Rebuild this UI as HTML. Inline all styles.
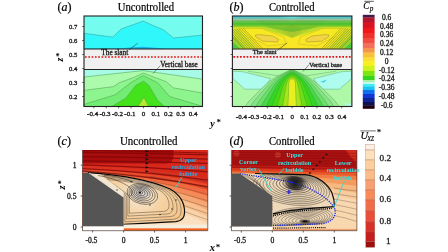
<!DOCTYPE html>
<html><head><meta charset="utf-8"><style>html,body{margin:0;padding:0;background:#fff;overflow:hidden}svg{display:block}</style></head><body>
<svg width="448" height="252" viewBox="0 0 448 252">
<rect width="448" height="252" fill="#fff"/>
<text x="57.6" y="10.6" style="font-family:'Liberation Serif',serif;font-size:12px;stroke:#000;stroke-width:0.2px">(<tspan font-style="italic">a</tspan>)</text>
<text x="117.8" y="10.6" textLength="56.4" lengthAdjust="spacingAndGlyphs" style="font-family:'Liberation Serif',serif;font-size:12px;stroke:#000;stroke-width:0.2px">Uncontrolled</text>
<text x="229.5" y="10.6" style="font-family:'Liberation Serif',serif;font-size:12px;stroke:#000;stroke-width:0.2px">(<tspan font-style="italic">b</tspan>)</text>
<text x="269" y="10.6" textLength="45.5" lengthAdjust="spacingAndGlyphs" style="font-family:'Liberation Serif',serif;font-size:12px;stroke:#000;stroke-width:0.2px">Controlled</text>
<text x="57.6" y="144.8" style="font-family:'Liberation Serif',serif;font-size:12px;stroke:#000;stroke-width:0.2px">(<tspan font-style="italic">c</tspan>)</text>
<text x="120" y="144.8" textLength="57.5" lengthAdjust="spacingAndGlyphs" style="font-family:'Liberation Serif',serif;font-size:12px;stroke:#000;stroke-width:0.2px">Uncontrolled</text>
<text x="229.5" y="144.8" style="font-family:'Liberation Serif',serif;font-size:12px;stroke:#000;stroke-width:0.2px">(<tspan font-style="italic">d</tspan>)</text>
<text x="269" y="144.8" textLength="45.5" lengthAdjust="spacingAndGlyphs" style="font-family:'Liberation Serif',serif;font-size:12px;stroke:#000;stroke-width:0.2px">Controlled</text>
<rect x="84.0" y="16.0" width="118.5" height="33.0" fill="#74fcee"/>
<polygon points="84.0,33.3 112.7,37.1 121.3,29.0 143.0,21.1 163.6,30.0 173.6,38.0 202.5,35.1 202.5,49.0 84.0,49.0" fill="#30f8fa" stroke="#3aa6a0" stroke-width="0.6"/>
<polygon points="84.0,49.0 84.0,48.7 118.0,48.5 130.0,47.6 143.0,46.7 152.0,47.4 166.0,48.6 202.5,48.8 202.5,49.0" fill="#18b4e8"/>
<rect x="84.0" y="49.0" width="118.5" height="20.5" fill="#f0f0f0"/>
<rect x="84.0" y="69.5" width="118.5" height="37.0" fill="#a6fae6"/>
<polygon points="84.0,77.0 143.0,70.6 202.5,79.2 202.5,106.5 84.0,106.5" fill="#acfaac" stroke="#4a9a4a" stroke-width="0.5"/>
<polygon points="84.0,90.4 113.4,86.6 119.5,82.6 134.3,77.3 143.0,73.0 166.2,81.7 173.2,87.8 202.5,93.0 202.5,106.5 84.0,106.5" fill="#8ef48e" stroke="#4a9a4a" stroke-width="0.5"/>
<polygon points="84.0,104.4 115.2,94.8 130.9,82.6 143.0,75.5 157.5,82.6 169.7,96.5 202.5,106.3 202.5,106.5 84.0,106.5" fill="#72ec72" stroke="#4a9a4a" stroke-width="0.5"/>
<polygon points="111.7,106.5 125.6,98.3 136.0,85.2 143.5,81.2 148.7,85.2 157.5,100.0 164.4,106.5" fill="#44e21a" stroke="#4a9a4a" stroke-width="0.5"/>
<polygon points="137.8,106.5 144.0,97.2 148.7,106.5" fill="#b4ea2c" stroke="#4a9a4a" stroke-width="0.5"/>
<line x1="85.0" y1="57" x2="201.5" y2="57" stroke="#e01010" stroke-width="1.7" stroke-dasharray="1.7 1.6"/>
<rect x="84.0" y="16.0" width="118.5" height="90.5" fill="none" stroke="#222" stroke-width="1.1"/>
<line x1="84.0" y1="49.0" x2="202.5" y2="49.0" stroke="#222" stroke-width="1"/>
<line x1="84.0" y1="69.5" x2="202.5" y2="69.5" stroke="#222" stroke-width="1"/>
<text x="101.3" y="55.0" text-anchor="start" style="font-family:'Liberation Serif',serif;font-size:7.3px;fill:#222;stroke:#222;stroke-width:0.32px">The slant</text>
<line x1="129" y1="49.8" x2="137.7" y2="43.3" stroke="#222" stroke-width="0.5"/>
<text x="160.3" y="67.0" text-anchor="start" style="font-family:'Liberation Serif',serif;font-size:7.3px;fill:#222;stroke:#222;stroke-width:0.32px">Vertical base</text>
<line x1="160.3" y1="65.6" x2="153.1" y2="73.4" stroke="#222" stroke-width="0.5"/>
<line x1="82.2" y1="26.5" x2="84.0" y2="26.5" stroke="#222" stroke-width="0.7"/>
<text x="77.2" y="28.9" text-anchor="end" style="font-family:'Liberation Serif',serif;font-size:6.6px;fill:#222;stroke:#222;stroke-width:0.32px">0.7</text>
<line x1="82.2" y1="40.5" x2="84.0" y2="40.5" stroke="#222" stroke-width="0.7"/>
<text x="77.2" y="42.9" text-anchor="end" style="font-family:'Liberation Serif',serif;font-size:6.6px;fill:#222;stroke:#222;stroke-width:0.32px">0.6</text>
<line x1="82.2" y1="54.5" x2="84.0" y2="54.5" stroke="#222" stroke-width="0.7"/>
<text x="77.2" y="56.9" text-anchor="end" style="font-family:'Liberation Serif',serif;font-size:6.6px;fill:#222;stroke:#222;stroke-width:0.32px">0.5</text>
<line x1="82.2" y1="68.5" x2="84.0" y2="68.5" stroke="#222" stroke-width="0.7"/>
<text x="77.2" y="70.9" text-anchor="end" style="font-family:'Liberation Serif',serif;font-size:6.6px;fill:#222;stroke:#222;stroke-width:0.32px">0.4</text>
<line x1="82.2" y1="82.5" x2="84.0" y2="82.5" stroke="#222" stroke-width="0.7"/>
<text x="77.2" y="84.9" text-anchor="end" style="font-family:'Liberation Serif',serif;font-size:6.6px;fill:#222;stroke:#222;stroke-width:0.32px">0.3</text>
<line x1="82.2" y1="96.5" x2="84.0" y2="96.5" stroke="#222" stroke-width="0.7"/>
<text x="77.2" y="98.9" text-anchor="end" style="font-family:'Liberation Serif',serif;font-size:6.6px;fill:#222;stroke:#222;stroke-width:0.32px">0.2</text>
<line x1="93.85" y1="106.5" x2="93.85" y2="108.3" stroke="#222" stroke-width="0.7"/>
<text x="92.64999999999999" y="116.3" text-anchor="middle" style="font-family:'Liberation Serif',serif;font-size:7.0px;fill:#222;stroke:#222;stroke-width:0.32px">-0.4</text>
<line x1="106.24999999999999" y1="106.5" x2="106.24999999999999" y2="108.3" stroke="#222" stroke-width="0.7"/>
<text x="105.04999999999998" y="116.3" text-anchor="middle" style="font-family:'Liberation Serif',serif;font-size:7.0px;fill:#222;stroke:#222;stroke-width:0.32px">-0.3</text>
<line x1="118.64999999999999" y1="106.5" x2="118.64999999999999" y2="108.3" stroke="#222" stroke-width="0.7"/>
<text x="117.44999999999999" y="116.3" text-anchor="middle" style="font-family:'Liberation Serif',serif;font-size:7.0px;fill:#222;stroke:#222;stroke-width:0.32px">-0.2</text>
<line x1="131.04999999999998" y1="106.5" x2="131.04999999999998" y2="108.3" stroke="#222" stroke-width="0.7"/>
<text x="129.85" y="116.3" text-anchor="middle" style="font-family:'Liberation Serif',serif;font-size:7.0px;fill:#222;stroke:#222;stroke-width:0.32px">-0.1</text>
<line x1="143.45" y1="106.5" x2="143.45" y2="108.3" stroke="#222" stroke-width="0.7"/>
<text x="143.45" y="116.3" text-anchor="middle" style="font-family:'Liberation Serif',serif;font-size:7.0px;fill:#222;stroke:#222;stroke-width:0.32px">0</text>
<line x1="155.85" y1="106.5" x2="155.85" y2="108.3" stroke="#222" stroke-width="0.7"/>
<text x="155.85" y="116.3" text-anchor="middle" style="font-family:'Liberation Serif',serif;font-size:7.0px;fill:#222;stroke:#222;stroke-width:0.32px">0.1</text>
<line x1="168.25" y1="106.5" x2="168.25" y2="108.3" stroke="#222" stroke-width="0.7"/>
<text x="168.25" y="116.3" text-anchor="middle" style="font-family:'Liberation Serif',serif;font-size:7.0px;fill:#222;stroke:#222;stroke-width:0.32px">0.2</text>
<line x1="180.64999999999998" y1="106.5" x2="180.64999999999998" y2="108.3" stroke="#222" stroke-width="0.7"/>
<text x="180.64999999999998" y="116.3" text-anchor="middle" style="font-family:'Liberation Serif',serif;font-size:7.0px;fill:#222;stroke:#222;stroke-width:0.32px">0.3</text>
<line x1="193.04999999999998" y1="106.5" x2="193.04999999999998" y2="108.3" stroke="#222" stroke-width="0.7"/>
<text x="193.04999999999998" y="116.3" text-anchor="middle" style="font-family:'Liberation Serif',serif;font-size:7.0px;fill:#222;stroke:#222;stroke-width:0.32px">0.4</text>
<text transform="translate(62.8,61.6) rotate(-90)" style="font-family:'Liberation Serif',serif;font-size:10px;font-style:italic;font-weight:bold">z<tspan font-size="8" dx="1" dy="-0.6" font-style="normal">*</tspan></text>
<text x="210.3" y="126.6" style="font-family:'Liberation Serif',serif;font-size:10px;font-style:italic;font-weight:bold">y<tspan font-size="9" dx="1.8" dy="-1.3" font-style="normal">*</tspan></text>
<defs><linearGradient id="gbtop" gradientUnits="userSpaceOnUse" x1="0" y1="16" x2="0" y2="49"><stop offset="0" stop-color="#38c4e0"/><stop offset="0.06" stop-color="#5cc8c4"/><stop offset="0.11" stop-color="#a0c8a0"/><stop offset="0.16" stop-color="#70c650"/><stop offset="0.24" stop-color="#48c630"/><stop offset="0.31" stop-color="#80d028"/><stop offset="0.35" stop-color="#c8e020"/><stop offset="0.39" stop-color="#f6ea20"/><stop offset="1" stop-color="#fae426"/></linearGradient><radialGradient id="gbspot" cx="0.5" cy="0" r="0.6"><stop offset="0" stop-color="#70f4f4"/><stop offset="1" stop-color="#70f4f4" stop-opacity="0"/></radialGradient></defs>
<rect x="232.4" y="16.0" width="119.49999999999997" height="33.0" fill="url(#gbtop)"/>
<rect x="280" y="16" width="23" height="5" fill="url(#gbspot)"/>
<polygon points="256.0,26.8 292.1,37.8 328.3,26.8" fill="#bcdc2c"/>
<polygon points="262.0,26.5 292.1,32.0 322.3,26.5" fill="#78cc2c"/>
<line x1="256.0" y1="20" x2="292.15" y2="37.8" stroke="#6a8a3a" stroke-width="0.25" opacity="0.6"/>
<line x1="327.0" y1="20" x2="292.15" y2="37.8" stroke="#6a8a3a" stroke-width="0.25" opacity="0.6"/>
<line x1="258.6" y1="20" x2="293.06" y2="37.15" stroke="#6a8a3a" stroke-width="0.25" opacity="0.6"/>
<line x1="324.4" y1="20" x2="291.23999999999995" y2="37.15" stroke="#6a8a3a" stroke-width="0.25" opacity="0.6"/>
<line x1="261.2" y1="20" x2="293.96999999999997" y2="36.5" stroke="#6a8a3a" stroke-width="0.25" opacity="0.6"/>
<line x1="321.8" y1="20" x2="290.33" y2="36.5" stroke="#6a8a3a" stroke-width="0.25" opacity="0.6"/>
<line x1="263.8" y1="20" x2="294.88" y2="35.849999999999994" stroke="#6a8a3a" stroke-width="0.25" opacity="0.6"/>
<line x1="319.2" y1="20" x2="289.41999999999996" y2="35.849999999999994" stroke="#6a8a3a" stroke-width="0.25" opacity="0.6"/>
<line x1="266.4" y1="20" x2="295.78999999999996" y2="35.199999999999996" stroke="#6a8a3a" stroke-width="0.25" opacity="0.6"/>
<line x1="316.6" y1="20" x2="288.51" y2="35.199999999999996" stroke="#6a8a3a" stroke-width="0.25" opacity="0.6"/>
<line x1="269.0" y1="20" x2="296.7" y2="34.55" stroke="#6a8a3a" stroke-width="0.25" opacity="0.6"/>
<line x1="314.0" y1="20" x2="287.59999999999997" y2="34.55" stroke="#6a8a3a" stroke-width="0.25" opacity="0.6"/>
<line x1="271.6" y1="20" x2="297.60999999999996" y2="33.9" stroke="#6a8a3a" stroke-width="0.25" opacity="0.6"/>
<line x1="311.4" y1="20" x2="286.69" y2="33.9" stroke="#6a8a3a" stroke-width="0.25" opacity="0.6"/>
<line x1="274.2" y1="20" x2="298.52" y2="33.25" stroke="#6a8a3a" stroke-width="0.25" opacity="0.6"/>
<line x1="308.8" y1="20" x2="285.78" y2="33.25" stroke="#6a8a3a" stroke-width="0.25" opacity="0.6"/>
<line x1="276.8" y1="20" x2="299.42999999999995" y2="32.599999999999994" stroke="#6a8a3a" stroke-width="0.25" opacity="0.6"/>
<line x1="306.2" y1="20" x2="284.87" y2="32.599999999999994" stroke="#6a8a3a" stroke-width="0.25" opacity="0.6"/>
<line x1="279.4" y1="20" x2="300.34" y2="31.949999999999996" stroke="#6a8a3a" stroke-width="0.25" opacity="0.6"/>
<line x1="303.6" y1="20" x2="283.96" y2="31.949999999999996" stroke="#6a8a3a" stroke-width="0.25" opacity="0.6"/>
<line x1="282.0" y1="20" x2="301.25" y2="31.299999999999997" stroke="#6a8a3a" stroke-width="0.25" opacity="0.6"/>
<line x1="301.0" y1="20" x2="283.04999999999995" y2="31.299999999999997" stroke="#6a8a3a" stroke-width="0.25" opacity="0.6"/>
<line x1="284.6" y1="20" x2="302.15999999999997" y2="30.65" stroke="#6a8a3a" stroke-width="0.25" opacity="0.6"/>
<line x1="298.4" y1="20" x2="282.14" y2="30.65" stroke="#6a8a3a" stroke-width="0.25" opacity="0.6"/>
<polygon points="232.4,28.5 238.0,28.5 256.0,48.5 232.4,48.5" fill="#d4e026"/>
<polygon points="232.4,35.0 246.0,48.5 232.4,48.5" fill="#9cd42e"/>
<polygon points="232.4,41.5 240.0,48.5 232.4,48.5" fill="#4cc83c"/>
<line x1="232.4" y1="36.9" x2="243.4" y2="48.5" stroke="#3a5a20" stroke-width="0.45" opacity="0.8"/>
<line x1="232.4" y1="34.379999999999995" x2="245.8" y2="48.5" stroke="#3a5a20" stroke-width="0.45" opacity="0.8"/>
<line x1="232.4" y1="31.85999999999999" x2="248.20000000000002" y2="48.5" stroke="#3a5a20" stroke-width="0.45" opacity="0.8"/>
<line x1="232.4" y1="29.34000000000001" x2="250.6" y2="48.5" stroke="#3a5a20" stroke-width="0.45" opacity="0.8"/>
<line x1="234.0" y1="28.5" x2="253.0" y2="48.5" stroke="#3a5a20" stroke-width="0.45" opacity="0.8"/>
<line x1="236.4" y1="28.5" x2="255.4" y2="48.5" stroke="#3a5a20" stroke-width="0.45" opacity="0.8"/>
<line x1="238.8" y1="28.5" x2="257.8" y2="48.5" stroke="#3a5a20" stroke-width="0.45" opacity="0.8"/>
<line x1="241.20000000000002" y1="28.5" x2="260.20000000000005" y2="48.5" stroke="#3a5a20" stroke-width="0.45" opacity="0.8"/>
<line x1="243.6" y1="28.5" x2="262.6" y2="48.5" stroke="#3a5a20" stroke-width="0.45" opacity="0.8"/>
<polyline points="238.0,28.6 262.0,28.6 284.0,37.0 286.0,44.0 268.0,46.0 250.0,37.0" fill="none" stroke="#9a9030" stroke-width="0.35" opacity="0.8"/>
<polygon points="351.9,28.5 346.3,28.5 328.3,48.5 351.9,48.5" fill="#d4e026"/>
<polygon points="351.9,35.0 338.3,48.5 351.9,48.5" fill="#9cd42e"/>
<polygon points="351.9,41.5 344.3,48.5 351.9,48.5" fill="#4cc83c"/>
<line x1="351.9" y1="36.9" x2="340.9" y2="48.5" stroke="#3a5a20" stroke-width="0.45" opacity="0.8"/>
<line x1="351.9" y1="34.379999999999995" x2="338.49999999999994" y2="48.5" stroke="#3a5a20" stroke-width="0.45" opacity="0.8"/>
<line x1="351.9" y1="31.85999999999999" x2="336.0999999999999" y2="48.5" stroke="#3a5a20" stroke-width="0.45" opacity="0.8"/>
<line x1="351.9" y1="29.34000000000001" x2="333.69999999999993" y2="48.5" stroke="#3a5a20" stroke-width="0.45" opacity="0.8"/>
<line x1="350.29999999999995" y1="28.5" x2="331.29999999999995" y2="48.5" stroke="#3a5a20" stroke-width="0.45" opacity="0.8"/>
<line x1="347.9" y1="28.5" x2="328.9" y2="48.5" stroke="#3a5a20" stroke-width="0.45" opacity="0.8"/>
<line x1="345.49999999999994" y1="28.5" x2="326.49999999999994" y2="48.5" stroke="#3a5a20" stroke-width="0.45" opacity="0.8"/>
<line x1="343.0999999999999" y1="28.5" x2="324.0999999999999" y2="48.5" stroke="#3a5a20" stroke-width="0.45" opacity="0.8"/>
<line x1="340.69999999999993" y1="28.5" x2="321.69999999999993" y2="48.5" stroke="#3a5a20" stroke-width="0.45" opacity="0.8"/>
<polyline points="346.3,28.6 322.3,28.6 300.3,37.0 298.3,44.0 316.3,46.0 334.3,37.0" fill="none" stroke="#9a9030" stroke-width="0.35" opacity="0.8"/>
<line x1="232.4" y1="19.0" x2="351.9" y2="19.0" stroke="#4a7a40" stroke-width="0.25" opacity="0.5"/>
<line x1="232.4" y1="20.4" x2="351.9" y2="20.4" stroke="#4a7a40" stroke-width="0.25" opacity="0.5"/>
<line x1="232.4" y1="21.8" x2="351.9" y2="21.8" stroke="#4a7a40" stroke-width="0.25" opacity="0.5"/>
<line x1="232.4" y1="23.2" x2="351.9" y2="23.2" stroke="#4a7a40" stroke-width="0.25" opacity="0.5"/>
<line x1="232.4" y1="24.6" x2="351.9" y2="24.6" stroke="#4a7a40" stroke-width="0.25" opacity="0.5"/>
<line x1="232.4" y1="26.0" x2="351.9" y2="26.0" stroke="#4a7a40" stroke-width="0.25" opacity="0.5"/>
<polygon points="255.5,35.0 259.0,34.6 272.5,36.0 278.6,39.6 277.4,42.0 262.5,41.2 255.5,36.6" fill="#f2d446" stroke="#8a7a30" stroke-width="0.4"/>
<polygon points="328.8,35.0 325.3,34.6 311.8,36.0 305.7,39.6 306.9,42.0 321.8,41.2 328.8,36.6" fill="#f2d446" stroke="#8a7a30" stroke-width="0.4"/>
<rect x="232.4" y="49.0" width="119.49999999999997" height="20.5" fill="#f0f0f0"/>
<rect x="232.4" y="69.5" width="119.49999999999997" height="37.0" fill="#aef8a8"/>
<polygon points="233.0,71.2 243.0,71.8 270.6,78.7 263.1,89.2 244.9,89.2 233.0,78.7" fill="#aefcee" stroke="#4a9a6a" stroke-width="0.4"/>
<polygon points="351.4,71.2 341.3,71.8 313.7,78.7 321.2,89.2 339.4,89.2 351.4,78.7" fill="#aefcee" stroke="#4a9a6a" stroke-width="0.4"/>
<polygon points="320.0,82.0 327.0,79.5 324.0,82.5" fill="#38d0e8"/>
<polygon points="342.7,103.2 351.9,104.0 351.9,106.0 346.0,105.0" fill="#aefcee"/>
<polyline points="248.0,71.2 278.0,75.8" fill="none" stroke="#4a9a6a" stroke-width="0.4"/>
<polyline points="336.3,71.2 306.3,75.8" fill="none" stroke="#4a9a6a" stroke-width="0.4"/>
<polygon points="245.1,106.5 249.1,101.0 254.1,96.0 259.1,91.0 264.1,86.0 270.1,81.0 277.6,76.0 286.1,72.0 290.1,70.2 294.1,70.2 298.1,72.0 306.6,76.0 314.1,81.0 320.1,86.0 325.1,91.0 330.1,96.0 335.1,101.0 339.1,106.5" fill="#9aea9a" stroke="#3c8a30" stroke-width="0.35"/>
<polygon points="250.5,106.5 254.0,101.0 258.4,96.1 262.8,91.1 267.2,86.1 272.5,81.1 279.1,76.2 286.6,72.2 290.2,70.5 294.0,70.5 297.7,72.2 305.2,76.2 311.8,81.1 317.1,86.1 321.5,91.1 325.9,96.1 330.3,101.0 333.8,106.5" fill="#86e486" stroke="#3c8a30" stroke-width="0.35"/>
<polygon points="255.8,106.5 258.9,101.1 262.7,96.2 266.5,91.2 270.3,86.3 274.8,81.4 280.5,76.6 287.0,72.8 290.3,71.0 293.9,71.0 297.3,72.8 303.8,76.6 309.5,81.4 314.0,86.3 317.8,91.2 321.6,96.2 325.4,101.1 328.5,106.5" fill="#6cde6c" stroke="#3c8a30" stroke-width="0.35"/>
<polygon points="261.2,106.5 263.8,101.2 267.0,96.4 270.2,91.4 273.3,86.6 277.1,81.8 281.9,77.1 287.5,73.5 290.4,71.9 293.8,71.9 296.8,73.5 302.4,77.1 307.2,81.8 311.0,86.6 314.1,91.4 317.3,96.4 320.5,101.2 323.1,106.5" fill="#4cd64c" stroke="#3c8a30" stroke-width="0.35"/>
<polygon points="266.5,106.5 268.6,101.3 271.2,96.6 273.8,91.6 276.4,86.9 279.4,82.2 283.3,77.8 287.9,74.5 290.5,72.9 293.8,72.9 296.4,74.5 301.0,77.8 304.8,82.2 307.9,86.9 310.4,91.6 313.0,96.6 315.6,101.3 317.8,106.5" fill="#34d624" stroke="#3c8a30" stroke-width="0.35"/>
<polygon points="271.8,106.5 273.5,101.4 275.5,96.9 277.5,91.9 279.5,87.3 281.8,82.8 284.7,78.7 288.3,75.6 290.6,74.2 293.6,74.2 296.0,75.6 299.6,78.7 302.5,82.8 304.8,87.3 306.8,91.9 308.8,96.9 310.8,101.4 312.5,106.5" fill="#44da16" stroke="#3c8a30" stroke-width="0.35"/>
<polygon points="277.2,106.5 278.4,101.6 279.8,97.2 281.2,92.2 282.5,87.8 284.1,83.5 286.1,79.7 288.8,76.9 290.8,75.6 293.5,75.6 295.5,76.9 298.2,79.7 300.2,83.5 301.8,87.8 303.1,92.2 304.5,97.2 305.9,101.6 307.1,106.5" fill="#70de14" stroke="#3c8a30" stroke-width="0.35"/>
<polygon points="282.5,106.5 283.3,101.8 284.1,97.6 284.9,92.6 285.6,88.4 286.4,84.2 287.5,80.8 289.2,78.4 290.8,77.2 293.4,77.2 295.1,78.4 296.8,80.8 297.9,84.2 298.7,88.4 299.4,92.6 300.2,97.6 301.0,101.8 301.8,106.5" fill="#a8e61a" stroke="#3c8a30" stroke-width="0.35"/>
<polygon points="287.8,106.5 288.1,102.0 288.3,98.0 288.5,93.0 288.6,89.0 288.8,85.0 288.9,82.0 289.6,80.0 290.9,79.0 293.3,79.0 294.6,80.0 295.3,82.0 295.5,85.0 295.6,89.0 295.8,93.0 295.9,98.0 296.1,102.0 296.4,106.5" fill="#e8ee20" stroke="#3c8a30" stroke-width="0.35"/>
<line x1="233.4" y1="56.8" x2="350.9" y2="56.8" stroke="#e01010" stroke-width="1.7" stroke-dasharray="1.7 1.6"/>
<rect x="232.4" y="16.0" width="119.49999999999997" height="90.5" fill="none" stroke="#222" stroke-width="1.1"/>
<line x1="232.4" y1="49.0" x2="351.9" y2="49.0" stroke="#222" stroke-width="1"/>
<line x1="232.4" y1="69.5" x2="351.9" y2="69.5" stroke="#222" stroke-width="1"/>
<text x="252.8" y="54.4" text-anchor="start" style="font-family:'Liberation Serif',serif;font-size:6.45px;fill:#222;stroke:#222;stroke-width:0.32px">The slant</text>
<line x1="277.4" y1="50.5" x2="287.2" y2="42.8" stroke="#222" stroke-width="0.5"/>
<text x="309.3" y="66.7" text-anchor="start" style="font-family:'Liberation Serif',serif;font-size:6.4px;fill:#222;stroke:#222;stroke-width:0.32px">Vertical base</text>
<line x1="309.3" y1="64.4" x2="303" y2="71.4" stroke="#222" stroke-width="0.5"/>
<line x1="230.6" y1="26.5" x2="232.4" y2="26.5" stroke="#222" stroke-width="0.7"/>
<line x1="230.6" y1="40.5" x2="232.4" y2="40.5" stroke="#222" stroke-width="0.7"/>
<line x1="230.6" y1="54.5" x2="232.4" y2="54.5" stroke="#222" stroke-width="0.7"/>
<line x1="230.6" y1="68.5" x2="232.4" y2="68.5" stroke="#222" stroke-width="0.7"/>
<line x1="230.6" y1="82.5" x2="232.4" y2="82.5" stroke="#222" stroke-width="0.7"/>
<line x1="230.6" y1="96.5" x2="232.4" y2="96.5" stroke="#222" stroke-width="0.7"/>
<line x1="242.54999999999998" y1="106.5" x2="242.54999999999998" y2="108.3" stroke="#222" stroke-width="0.7"/>
<text x="241.35" y="118.9" text-anchor="middle" style="font-family:'Liberation Serif',serif;font-size:7.0px;fill:#222;stroke:#222;stroke-width:0.32px">-0.4</text>
<line x1="254.95" y1="106.5" x2="254.95" y2="108.3" stroke="#222" stroke-width="0.7"/>
<text x="253.75" y="118.9" text-anchor="middle" style="font-family:'Liberation Serif',serif;font-size:7.0px;fill:#222;stroke:#222;stroke-width:0.32px">-0.3</text>
<line x1="267.34999999999997" y1="106.5" x2="267.34999999999997" y2="108.3" stroke="#222" stroke-width="0.7"/>
<text x="266.15" y="118.9" text-anchor="middle" style="font-family:'Liberation Serif',serif;font-size:7.0px;fill:#222;stroke:#222;stroke-width:0.32px">-0.2</text>
<line x1="279.75" y1="106.5" x2="279.75" y2="108.3" stroke="#222" stroke-width="0.7"/>
<text x="278.55" y="118.9" text-anchor="middle" style="font-family:'Liberation Serif',serif;font-size:7.0px;fill:#222;stroke:#222;stroke-width:0.32px">-0.1</text>
<line x1="292.15" y1="106.5" x2="292.15" y2="108.3" stroke="#222" stroke-width="0.7"/>
<text x="292.15" y="118.9" text-anchor="middle" style="font-family:'Liberation Serif',serif;font-size:7.0px;fill:#222;stroke:#222;stroke-width:0.32px">0</text>
<line x1="304.54999999999995" y1="106.5" x2="304.54999999999995" y2="108.3" stroke="#222" stroke-width="0.7"/>
<text x="304.54999999999995" y="118.9" text-anchor="middle" style="font-family:'Liberation Serif',serif;font-size:7.0px;fill:#222;stroke:#222;stroke-width:0.32px">0.1</text>
<line x1="316.95" y1="106.5" x2="316.95" y2="108.3" stroke="#222" stroke-width="0.7"/>
<text x="316.95" y="118.9" text-anchor="middle" style="font-family:'Liberation Serif',serif;font-size:7.0px;fill:#222;stroke:#222;stroke-width:0.32px">0.2</text>
<line x1="329.34999999999997" y1="106.5" x2="329.34999999999997" y2="108.3" stroke="#222" stroke-width="0.7"/>
<text x="329.34999999999997" y="118.9" text-anchor="middle" style="font-family:'Liberation Serif',serif;font-size:7.0px;fill:#222;stroke:#222;stroke-width:0.32px">0.3</text>
<line x1="341.75" y1="106.5" x2="341.75" y2="108.3" stroke="#222" stroke-width="0.7"/>
<text x="341.75" y="118.9" text-anchor="middle" style="font-family:'Liberation Serif',serif;font-size:7.0px;fill:#222;stroke:#222;stroke-width:0.32px">0.4</text>
<rect x="362.8" y="14.8" width="11.800000000000011" height="2.8" fill="#3c1c48"/>
<rect x="362.8" y="17.3" width="11.800000000000011" height="4.999999999999999" fill="#b01830"/>
<rect x="362.8" y="22" width="11.800000000000011" height="6.3" fill="#d81424"/>
<rect x="362.8" y="28" width="11.800000000000011" height="5.3" fill="#f01818"/>
<rect x="362.8" y="33" width="11.800000000000011" height="5.3" fill="#f0302c"/>
<rect x="362.8" y="38" width="11.800000000000011" height="5.3" fill="#f04c44"/>
<rect x="362.8" y="43" width="11.800000000000011" height="5.3" fill="#f2705a"/>
<rect x="362.8" y="48" width="11.800000000000011" height="4.8" fill="#f4944e"/>
<rect x="362.8" y="52.5" width="11.800000000000011" height="5.3" fill="#f8c03c"/>
<rect x="362.8" y="57.5" width="11.800000000000011" height="4.3" fill="#fae02e"/>
<rect x="362.8" y="61.5" width="11.800000000000011" height="4.8" fill="#f6f020"/>
<rect x="362.8" y="66" width="11.800000000000011" height="5.3" fill="#cef01c"/>
<rect x="362.8" y="71" width="11.800000000000011" height="5.3" fill="#7ee414"/>
<rect x="362.8" y="76" width="11.800000000000011" height="4.3" fill="#34d420"/>
<rect x="362.8" y="80" width="11.800000000000011" height="2.3" fill="#a8f0a8"/>
<rect x="362.8" y="82" width="11.800000000000011" height="2.3" fill="#c4f8f0"/>
<rect x="362.8" y="84" width="11.800000000000011" height="2.8" fill="#3cf0f0"/>
<rect x="362.8" y="86.5" width="11.800000000000011" height="3.8" fill="#20c0f0"/>
<rect x="362.8" y="90" width="11.800000000000011" height="4.3" fill="#1070f0"/>
<rect x="362.8" y="94" width="11.800000000000011" height="4.3" fill="#1038d0"/>
<rect x="362.8" y="98" width="11.800000000000011" height="4.3" fill="#102294"/>
<rect x="362.8" y="102" width="11.800000000000011" height="3.8" fill="#0e1050"/>
<rect x="362.8" y="105.5" width="11.800000000000011" height="3.3" fill="#200010"/>
<text x="386.6" y="19.700000000000003" text-anchor="middle" style="font-family:'Liberation Serif',serif;font-size:7.5px;fill:#222;stroke:#222;stroke-width:0.32px">0.6</text>
<text x="386.6" y="28.520000000000003" text-anchor="middle" style="font-family:'Liberation Serif',serif;font-size:7.5px;fill:#222;stroke:#222;stroke-width:0.32px">0.48</text>
<text x="386.6" y="37.34" text-anchor="middle" style="font-family:'Liberation Serif',serif;font-size:7.5px;fill:#222;stroke:#222;stroke-width:0.32px">0.36</text>
<text x="386.6" y="46.160000000000004" text-anchor="middle" style="font-family:'Liberation Serif',serif;font-size:7.5px;fill:#222;stroke:#222;stroke-width:0.32px">0.24</text>
<text x="386.6" y="54.980000000000004" text-anchor="middle" style="font-family:'Liberation Serif',serif;font-size:7.5px;fill:#222;stroke:#222;stroke-width:0.32px">0.12</text>
<text x="386.6" y="63.800000000000004" text-anchor="middle" style="font-family:'Liberation Serif',serif;font-size:7.5px;fill:#222;stroke:#222;stroke-width:0.32px">0</text>
<text x="386.6" y="72.62" text-anchor="middle" style="font-family:'Liberation Serif',serif;font-size:7.5px;fill:#222;stroke:#222;stroke-width:0.32px">-0.12</text>
<text x="386.6" y="81.44" text-anchor="middle" style="font-family:'Liberation Serif',serif;font-size:7.5px;fill:#222;stroke:#222;stroke-width:0.32px">-0.24</text>
<text x="386.6" y="90.25999999999999" text-anchor="middle" style="font-family:'Liberation Serif',serif;font-size:7.5px;fill:#222;stroke:#222;stroke-width:0.32px">-0.36</text>
<text x="386.6" y="99.07999999999998" text-anchor="middle" style="font-family:'Liberation Serif',serif;font-size:7.5px;fill:#222;stroke:#222;stroke-width:0.32px">-0.48</text>
<text x="386.6" y="107.9" text-anchor="middle" style="font-family:'Liberation Serif',serif;font-size:7.5px;fill:#222;stroke:#222;stroke-width:0.32px">-0.6</text>
<text x="363.3" y="9.3" style="font-family:'Liberation Serif',serif;font-size:9.4px;font-style:italic;stroke:#000;stroke-width:0.15px">C<tspan font-size="7.2" dx="0.2" dy="1.6">p</tspan></text>
<line x1="364.3" y1="1.3" x2="373.8" y2="1.3" stroke="#333" stroke-width="0.8"/>
<defs><clipPath id="clipc"><rect x="82.5" y="150" width="125.3" height="80.7"/></clipPath><clipPath id="clipd"><rect x="231.4" y="150" width="125.5" height="80.7"/></clipPath><radialGradient id="vortc" cx="0.5" cy="0.5" r="0.5"><stop offset="0" stop-color="#d8d4d0"/><stop offset="1" stop-color="#f0e0c8"/></radialGradient></defs>
<g clip-path="url(#clipc)">
<rect x="82.5" y="150.0" width="125.30000000000001" height="80.69999999999999" fill="#d8281c"/>
<path d="M82.5,150 H173.5 V156 Q173.5,163.5 166,163.5 H82.5 Z" fill="#a80c0c"/>
<path d="M82.5,165.5 Q150,167.5 207.8,178 V231 H82.5 Z" fill="#dc3020"/>
<path d="M82.5,168.5 Q150,171 207.8,184 V231 H82.5 Z" fill="#e84a2a"/>
<path d="M82.5,170.5 Q150,174 207.8,190 V231 H82.5 Z" fill="#f06a40"/>
<path d="M82.5,172 Q150,177 207.8,196 V231 H82.5 Z" fill="#f48a58"/>
<path d="M82.5,173 Q150,180 207.8,203 V231 H82.5 Z" fill="#f6a874"/>
<path d="M82.5,174 Q150,184 207.8,210 V231 H82.5 Z" fill="#f8c290"/>
<path d="M82.5,175 Q150,190 207.8,217 V231 H82.5 Z" fill="#f9d4aa"/>
<path d="M82.5,176 Q150,196 207.8,224 V231 H82.5 Z" fill="#fae0c0"/>
<path d="M82.5,150.6 Q150,151.2 207.8,153.1" fill="none" stroke="#7a0606" stroke-width="1.0" opacity="0.75"/>
<path d="M82.5,152.4 Q150,153.0 207.8,154.9" fill="none" stroke="#7a0606" stroke-width="1.3" opacity="0.75"/>
<path d="M82.5,156.6 Q150,157.2 207.8,159.1" fill="none" stroke="#7a0606" stroke-width="1.3" opacity="0.75"/>
<path d="M82.5,160.8 Q150,161.4 207.8,163.3" fill="none" stroke="#7a0606" stroke-width="1.3" opacity="0.75"/>
<path d="M82.5,164.9 Q150,166.9 207.8,171.88" fill="none" stroke="#7a0606" stroke-width="1.3" opacity="0.75"/>
<path d="M82.5,168.6 Q150,172.0 207.8,180.06" fill="none" stroke="#7a0606" stroke-width="1.3" opacity="0.75"/>
<path d="M82.5,171.0 Q150,175.79999999999998 207.8,186.94" fill="none" stroke="#7a0606" stroke-width="1.3" opacity="0.75"/>
<path d="M150,172.0 Q185,176.0 207.8,182.0" fill="none" stroke="#5a3a2a" stroke-width="0.45" opacity="0.7"/>
<path d="M150,176.5 Q185,182.0 207.8,188.3" fill="none" stroke="#5a3a2a" stroke-width="0.45" opacity="0.7"/>
<path d="M150,181.0 Q185,188.0 207.8,194.6" fill="none" stroke="#5a3a2a" stroke-width="0.45" opacity="0.7"/>
<path d="M150,185.5 Q185,194.0 207.8,200.9" fill="none" stroke="#5a3a2a" stroke-width="0.45" opacity="0.7"/>
<path d="M150,190.0 Q185,200.0 207.8,207.2" fill="none" stroke="#5a3a2a" stroke-width="0.45" opacity="0.7"/>
<path d="M150,194.5 Q185,206.0 207.8,213.5" fill="none" stroke="#5a3a2a" stroke-width="0.45" opacity="0.7"/>
<path d="M150,199.0 Q185,212.0 207.8,219.8" fill="none" stroke="#5a3a2a" stroke-width="0.45" opacity="0.7"/>
<defs><radialGradient id="bubc" gradientUnits="userSpaceOnUse" cx="140" cy="192.5" r="48"><stop offset="0" stop-color="#ece6de"/><stop offset="0.2" stop-color="#f4e2c6"/><stop offset="0.5" stop-color="#f5d2a2"/><stop offset="1" stop-color="#f2c48a"/></radialGradient></defs>
<path d="M88,172.6 C120,174.8 150,180 170,189 C182,196 184.6,205 184.6,212 C184.6,218 182,221 176,221.6 L123.6,224.4 V197 L89,172.8 Z" fill="url(#bubc)"/>
<path d="M88,172.6 C120,174.8 150,180 170,189 C182,196 184.6,205 184.6,212 C184.6,218 182,221 176,221.6 L123.6,224.4 V197 L89,172.8 Z" transform="translate(140,192.5) scale(0.92) translate(-140,-192.5)" fill="none" stroke="#3a2e26" stroke-width="0.5" vector-effect="non-scaling-stroke" opacity="0.85"/>
<path d="M88,172.6 C120,174.8 150,180 170,189 C182,196 184.6,205 184.6,212 C184.6,218 182,221 176,221.6 L123.6,224.4 V197 L89,172.8 Z" transform="translate(140,192.5) scale(0.83) translate(-140,-192.5)" fill="none" stroke="#3a2e26" stroke-width="0.5" vector-effect="non-scaling-stroke" opacity="0.85"/>
<path d="M88,172.6 C120,174.8 150,180 170,189 C182,196 184.6,205 184.6,212 C184.6,218 182,221 176,221.6 L123.6,224.4 V197 L89,172.8 Z" transform="translate(140,192.5) scale(0.74) translate(-140,-192.5)" fill="none" stroke="#3a2e26" stroke-width="0.5" vector-effect="non-scaling-stroke" opacity="0.85"/>
<path d="M88,172.6 C120,174.8 150,180 170,189 C182,196 184.6,205 184.6,212 C184.6,218 182,221 176,221.6 L123.6,224.4 V197 L89,172.8 Z" transform="translate(140,192.5) scale(0.65) translate(-140,-192.5)" fill="none" stroke="#3a2e26" stroke-width="0.5" vector-effect="non-scaling-stroke" opacity="0.85"/>
<ellipse cx="140.5" cy="192.5" rx="10" ry="7" fill="#d6d0ca"/>
<ellipse cx="140.3" cy="192.5" rx="2.4" ry="1.536" transform="rotate(14 140.3 192.5)" fill="none" stroke="#2a2420" stroke-width="0.5"/>
<ellipse cx="140.65" cy="192.75" rx="4.6" ry="2.944" transform="rotate(14 140.65 192.75)" fill="none" stroke="#2a2420" stroke-width="0.5"/>
<ellipse cx="141.0" cy="193.0" rx="6.800000000000001" ry="4.352" transform="rotate(14 141.0 193.0)" fill="none" stroke="#2a2420" stroke-width="0.5"/>
<ellipse cx="141.35000000000002" cy="193.25" rx="9.0" ry="5.76" transform="rotate(14 141.35000000000002 193.25)" fill="none" stroke="#2a2420" stroke-width="0.5"/>
<ellipse cx="141.70000000000002" cy="193.5" rx="11.200000000000001" ry="7.168000000000001" transform="rotate(14 141.70000000000002 193.5)" fill="none" stroke="#2a2420" stroke-width="0.5"/>
<ellipse cx="142.05" cy="193.75" rx="13.4" ry="8.576" transform="rotate(14 142.05 193.75)" fill="none" stroke="#2a2420" stroke-width="0.5"/>
<ellipse cx="142.4" cy="194.0" rx="15.600000000000001" ry="9.984000000000002" transform="rotate(14 142.4 194.0)" fill="none" stroke="#2a2420" stroke-width="0.5"/>
<circle cx="140" cy="192.5" r="1.1" fill="#111"/>
<polygon points="89,172.8 123.6,197 123.6,192 100,174" fill="#f8ecd8" opacity="0.9"/>
<path d="M98,175.5 Q115,178 128,186 Q134,190 131,196" fill="none" stroke="#3a2e26" stroke-width="0.5"/>
<path d="M104,175.2 Q120,176.5 133,182" fill="none" stroke="#3a2e26" stroke-width="0.5"/>
<circle cx="131" cy="181.5" r="0.7" fill="#222"/>
<circle cx="150" cy="205" r="0.7" fill="#222"/>
<circle cx="160" cy="214.5" r="0.7" fill="#222"/>
<circle cx="172" cy="209" r="0.7" fill="#222"/>
<circle cx="176" cy="200" r="0.7" fill="#222"/>
<circle cx="117" cy="190" r="0.7" fill="#222"/>
<path d="M88,172.6 C120,174.8 150,180 170,189 C182,196 184.6,205 184.6,212 C184.6,218 182,221 176,221.6 L123.6,224.4" fill="none" stroke="#0a0a0a" stroke-width="1.2"/>
<rect x="123.6" y="224.6" width="84.2" height="3.8" fill="#f6eedc"/>
<rect x="123.6" y="228.4" width="84.2" height="2.4" fill="#f06020"/>
<polygon points="82.5,172.8 89,172.8 123.6,197 123.6,226.5 82.5,226.5" fill="#555555"/>
<rect x="82.5" y="226.5" width="41.1" height="4.3" fill="#ffffff"/>
<line x1="89" y1="172.9" x2="123.6" y2="197.1" stroke="#fbf4e6" stroke-width="0.8"/>
<polygon points="145.6,150.0 148.8,151.29999999999998 145.6,152.5" fill="#111"/>
<polygon points="145.6,154.0 148.8,155.29999999999998 145.6,156.5" fill="#111"/>
<polygon points="145.6,158.10000000000002 148.8,159.4 145.6,160.60000000000002" fill="#111"/>
<polygon points="145.6,162.10000000000002 148.8,163.4 145.6,164.60000000000002" fill="#111"/>
<polygon points="145.6,166.10000000000002 148.8,167.4 145.6,168.60000000000002" fill="#111"/>
<polygon points="145.6,170.10000000000002 148.8,171.4 145.6,172.60000000000002" fill="#111"/>
</g>
<path d="M82.5,150.0 V230.7 H207.8 V150.0" fill="none" stroke="#3a2a2a" stroke-width="0.6"/>
<text x="188.3" y="161.6" text-anchor="middle" style="font-family:'Liberation Serif',serif;font-size:6.1px;font-weight:bold;fill:#2aa8e8">Upper</text>
<text x="188.3" y="169.1" text-anchor="middle" style="font-family:'Liberation Serif',serif;font-size:6.1px;font-weight:bold;fill:#2aa8e8">recirculation</text>
<text x="188.3" y="175.9" text-anchor="middle" style="font-family:'Liberation Serif',serif;font-size:6.1px;font-weight:bold;fill:#2aa8e8">bubble</text>
<line x1="182" y1="177.4" x2="174.8" y2="188.5" stroke="#30d8d8" stroke-width="0.9"/>
<line x1="92.6" y1="230.7" x2="92.6" y2="232.5" stroke="#222" stroke-width="0.7"/>
<text x="91.39999999999999" y="243" text-anchor="middle" style="font-family:'Liberation Serif',serif;font-size:7.6px;fill:#222;stroke:#222;stroke-width:0.32px">-0.5</text>
<line x1="123.6" y1="230.7" x2="123.6" y2="232.5" stroke="#222" stroke-width="0.7"/>
<text x="123.6" y="243" text-anchor="middle" style="font-family:'Liberation Serif',serif;font-size:7.6px;fill:#222;stroke:#222;stroke-width:0.32px">0</text>
<line x1="154.6" y1="230.7" x2="154.6" y2="232.5" stroke="#222" stroke-width="0.7"/>
<text x="154.6" y="243" text-anchor="middle" style="font-family:'Liberation Serif',serif;font-size:7.6px;fill:#222;stroke:#222;stroke-width:0.32px">0.5</text>
<line x1="185.6" y1="230.7" x2="185.6" y2="232.5" stroke="#222" stroke-width="0.7"/>
<text x="185.6" y="243" text-anchor="middle" style="font-family:'Liberation Serif',serif;font-size:7.6px;fill:#222;stroke:#222;stroke-width:0.32px">1</text>
<line x1="80.7" y1="165.2" x2="82.5" y2="165.2" stroke="#222" stroke-width="0.7"/>
<text x="76.5" y="167.79999999999998" text-anchor="end" style="font-family:'Liberation Serif',serif;font-size:7.6px;fill:#222;stroke:#222;stroke-width:0.32px">1</text>
<line x1="80.7" y1="196" x2="82.5" y2="196" stroke="#222" stroke-width="0.7"/>
<text x="76.5" y="198.6" text-anchor="end" style="font-family:'Liberation Serif',serif;font-size:7.6px;fill:#222;stroke:#222;stroke-width:0.32px">0.5</text>
<line x1="80.7" y1="227" x2="82.5" y2="227" stroke="#222" stroke-width="0.7"/>
<text x="76.5" y="229.6" text-anchor="end" style="font-family:'Liberation Serif',serif;font-size:7.6px;fill:#222;stroke:#222;stroke-width:0.32px">0</text>
<text transform="translate(65.4,189.6) rotate(-90)" style="font-family:'Liberation Serif',serif;font-size:10.5px;font-style:italic;font-weight:bold">z<tspan font-size="8" dx="1.2" dy="-1.2" font-style="normal">*</tspan></text>
<text x="209.8" y="251" style="font-family:'Liberation Serif',serif;font-size:10.5px;font-style:italic;font-weight:bold">x<tspan font-size="9" dx="0.8" dy="-1.4" font-style="normal">*</tspan></text>
<g clip-path="url(#clipd)">
<rect x="231.4" y="150.0" width="125.49999999999997" height="80.69999999999999" fill="#a81212"/>
<path d="M346,150 Q350,158 356.9,162 V150 Z" fill="#d42a1c"/>
<path d="M231.4,165 Q300,166 356.9,167 V231 H231.4 Z" fill="#c01c18"/>
<path d="M231.4,168 Q300,169.5 356.9,170 V231 H231.4 Z" fill="#dc3a20"/>
<path d="M231.4,170.5 Q300,172 356.9,173 V231 H231.4 Z" fill="#e85a2c"/>
<path d="M231.4,172 Q300,174 356.9,176 V231 H231.4 Z" fill="#f07c44"/>
<path d="M231.4,173.2 Q300,176 356.9,180 V231 H231.4 Z" fill="#f49c60"/>
<path d="M231.4,174 Q300,179 356.9,186 V231 H231.4 Z" fill="#f7b880"/>
<path d="M231.4,175 Q300,183 356.9,193 V231 H231.4 Z" fill="#f8cc9c"/>
<path d="M231.4,176 Q300,188 356.9,200 V231 H231.4 Z" fill="#f9d8b0"/>
<circle cx="236.5" cy="153.5" r="3" fill="#c83a30" opacity="0.8"/>
<circle cx="277.9" cy="155" r="3" fill="#c83a30" opacity="0.8"/>
<path d="M231.4,152.4 Q300,153.0 356.9,153.4" fill="none" stroke="#8a0c0a" stroke-width="0.55" opacity="0.8"/>
<path d="M231.4,154.9 Q300,155.5 356.9,156.20000000000002" fill="none" stroke="#8a0c0a" stroke-width="0.55" opacity="0.8"/>
<path d="M231.4,157.4 Q300,158.0 356.9,159.0" fill="none" stroke="#8a0c0a" stroke-width="0.55" opacity="0.8"/>
<path d="M231.4,159.9 Q300,160.5 356.9,161.8" fill="none" stroke="#8a0c0a" stroke-width="0.55" opacity="0.8"/>
<path d="M231.4,162.4 Q300,163.0 356.9,164.6" fill="none" stroke="#8a0c0a" stroke-width="0.55" opacity="0.8"/>
<path d="M231.4,164.9 Q300,165.5 356.9,167.4" fill="none" stroke="#8a0c0a" stroke-width="0.55" opacity="0.8"/>
<path d="M231.4,167.2 Q300,167.79999999999998 356.9,170.0" fill="none" stroke="#8a0c0a" stroke-width="0.55" opacity="0.8"/>
<defs><clipPath id="clipreg"><path d="M239.7,173.6 C262,173.9 292,173.9 305,174.7 C318,176.2 328,184 332,193 C334.5,198 335.6,203 335.6,211 C335.6,218 331,222.5 322,224.3 L272.3,226.7 V196 Z"/></clipPath><radialGradient id="uvd" gradientUnits="userSpaceOnUse" cx="295" cy="183.2" r="14"><stop offset="0" stop-color="#1a1816"/><stop offset="0.5" stop-color="#5a5450"/><stop offset="1" stop-color="#c8bcae" stop-opacity="0"/></radialGradient></defs>
<path d="M239.7,173.6 C262,173.9 292,173.9 305,174.7 C318,176.2 328,184 332,193 C334.5,198 335.6,203 335.6,211 C335.6,218 331,222.5 322,224.3 L272.3,226.7 V196 Z" fill="#eed8b8"/>
<path d="M334,188.0 Q345,190.0 356.9,191.0" fill="none" stroke="#4a3a30" stroke-width="0.45" opacity="0.7"/>
<path d="M334,193.5 Q345,195.5 356.9,197.1" fill="none" stroke="#4a3a30" stroke-width="0.45" opacity="0.7"/>
<path d="M334,199.0 Q345,201.0 356.9,203.2" fill="none" stroke="#4a3a30" stroke-width="0.45" opacity="0.7"/>
<path d="M334,204.5 Q345,206.5 356.9,209.3" fill="none" stroke="#4a3a30" stroke-width="0.45" opacity="0.7"/>
<path d="M334,210.0 Q345,212.0 356.9,215.4" fill="none" stroke="#4a3a30" stroke-width="0.45" opacity="0.7"/>
<path d="M334,215.5 Q345,217.5 356.9,221.5" fill="none" stroke="#4a3a30" stroke-width="0.45" opacity="0.7"/>
<g clip-path="url(#clipreg)">
<ellipse cx="295" cy="183.2" rx="16" ry="7" transform="rotate(8 295 183.2)" fill="url(#uvd)"/>
<ellipse cx="295.0" cy="183.2" rx="2.5" ry="1.1" transform="rotate(8 295.0 183.2)" fill="none" stroke="#1e1a18" stroke-width="0.6" opacity="0.85"/>
<ellipse cx="294.7" cy="183.64999999999998" rx="5.5" ry="2.35" transform="rotate(8 294.7 183.64999999999998)" fill="none" stroke="#1e1a18" stroke-width="0.6" opacity="0.85"/>
<ellipse cx="294.4" cy="184.1" rx="8.5" ry="3.6" transform="rotate(8 294.4 184.1)" fill="none" stroke="#1e1a18" stroke-width="0.6" opacity="0.85"/>
<ellipse cx="294.1" cy="184.54999999999998" rx="11.5" ry="4.85" transform="rotate(8 294.1 184.54999999999998)" fill="none" stroke="#1e1a18" stroke-width="0.6" opacity="0.85"/>
<ellipse cx="293.8" cy="185.0" rx="14.5" ry="6.1" transform="rotate(8 293.8 185.0)" fill="none" stroke="#1e1a18" stroke-width="0.6" opacity="0.85"/>
<ellipse cx="293.5" cy="185.45" rx="17.5" ry="7.35" transform="rotate(8 293.5 185.45)" fill="none" stroke="#1e1a18" stroke-width="0.6" opacity="0.85"/>
<ellipse cx="293.2" cy="185.89999999999998" rx="20.5" ry="8.6" transform="rotate(8 293.2 185.89999999999998)" fill="none" stroke="#1e1a18" stroke-width="0.45" opacity="0.85"/>
<ellipse cx="292.9" cy="186.35" rx="23.5" ry="9.85" transform="rotate(8 292.9 186.35)" fill="none" stroke="#1e1a18" stroke-width="0.45" opacity="0.85"/>
<ellipse cx="292.6" cy="186.79999999999998" rx="26.5" ry="11.1" transform="rotate(8 292.6 186.79999999999998)" fill="none" stroke="#1e1a18" stroke-width="0.45" opacity="0.85"/>
<ellipse cx="292.3" cy="187.25" rx="29.5" ry="12.35" transform="rotate(8 292.3 187.25)" fill="none" stroke="#1e1a18" stroke-width="0.45" opacity="0.85"/>
<ellipse cx="292.0" cy="187.7" rx="32.5" ry="13.6" transform="rotate(8 292.0 187.7)" fill="none" stroke="#1e1a18" stroke-width="0.45" opacity="0.85"/>
<ellipse cx="291.7" cy="188.14999999999998" rx="35.5" ry="14.85" transform="rotate(8 291.7 188.14999999999998)" fill="none" stroke="#1e1a18" stroke-width="0.45" opacity="0.85"/>
<ellipse cx="291.4" cy="188.6" rx="38.5" ry="16.1" transform="rotate(8 291.4 188.6)" fill="none" stroke="#1e1a18" stroke-width="0.45" opacity="0.85"/>
<ellipse cx="305.0" cy="221.3" rx="2.5" ry="0.9" transform="rotate(-4 305.0 221.3)" fill="none" stroke="#2a2420" stroke-width="0.45" opacity="0.8"/>
<ellipse cx="304.5" cy="220.9" rx="5.5" ry="1.8" transform="rotate(-4 304.5 220.9)" fill="none" stroke="#2a2420" stroke-width="0.45" opacity="0.8"/>
<ellipse cx="304.0" cy="220.5" rx="8.5" ry="2.7" transform="rotate(-4 304.0 220.5)" fill="none" stroke="#2a2420" stroke-width="0.45" opacity="0.8"/>
<ellipse cx="303.5" cy="220.10000000000002" rx="11.5" ry="3.6" transform="rotate(-4 303.5 220.10000000000002)" fill="none" stroke="#2a2420" stroke-width="0.45" opacity="0.8"/>
<ellipse cx="303.0" cy="219.70000000000002" rx="14.5" ry="4.5" transform="rotate(-4 303.0 219.70000000000002)" fill="none" stroke="#2a2420" stroke-width="0.45" opacity="0.8"/>
<ellipse cx="302.5" cy="219.3" rx="17.5" ry="5.4" transform="rotate(-4 302.5 219.3)" fill="none" stroke="#2a2420" stroke-width="0.45" opacity="0.8"/>
<ellipse cx="302.0" cy="218.9" rx="20.5" ry="6.300000000000001" transform="rotate(-4 302.0 218.9)" fill="none" stroke="#2a2420" stroke-width="0.45" opacity="0.8"/>
<ellipse cx="301.5" cy="218.5" rx="23.5" ry="7.2" transform="rotate(-4 301.5 218.5)" fill="none" stroke="#2a2420" stroke-width="0.45" opacity="0.8"/>
<ellipse cx="301.0" cy="218.10000000000002" rx="26.5" ry="8.1" transform="rotate(-4 301.0 218.10000000000002)" fill="none" stroke="#2a2420" stroke-width="0.45" opacity="0.8"/>
<ellipse cx="300.5" cy="217.70000000000002" rx="29.5" ry="9.0" transform="rotate(-4 300.5 217.70000000000002)" fill="none" stroke="#2a2420" stroke-width="0.45" opacity="0.8"/>
<ellipse cx="300.0" cy="217.3" rx="32.5" ry="9.9" transform="rotate(-4 300.0 217.3)" fill="none" stroke="#2a2420" stroke-width="0.45" opacity="0.8"/>
<ellipse cx="305" cy="221.3" rx="5" ry="1.5" fill="#3a3430" opacity="0.8"/>
<ellipse cx="305" cy="221.3" rx="2.4" ry="0.9" fill="#111"/>
</g>
<path d="M243.0,175.0 Q262,184 272.3,198" fill="none" stroke="#3a3028" stroke-width="0.45" opacity="0.7"/>
<path d="M245.2,175.2 Q264,186 272.3,201" fill="none" stroke="#3a3028" stroke-width="0.45" opacity="0.7"/>
<path d="M247.4,175.4 Q266,188 272.3,204" fill="none" stroke="#3a3028" stroke-width="0.45" opacity="0.7"/>
<path d="M249.6,175.6 Q268,190 272.3,207" fill="none" stroke="#3a3028" stroke-width="0.45" opacity="0.7"/>
<path d="M251.8,175.8 Q270,192 272.3,210" fill="none" stroke="#3a3028" stroke-width="0.45" opacity="0.7"/>
<path d="M255,173.5 C275,173.9 295,173.9 305,174.7 C318,176.2 328,184 332,193 C334,198 334.5,202 334.5,206.8" fill="none" stroke="#0a0a0a" stroke-width="1.2"/>
<path d="M273,214 C285,210.6 300,208.6 334.5,206.6" fill="none" stroke="#0a0a0a" stroke-width="1.3"/>
<path d="M273,215.8 C285,212.4 300,210.4 332,208.4" fill="none" stroke="#0a0a0a" stroke-width="1.3" stroke-dasharray="1.1 1"/>
<path d="M273,228.2 L326,227.6" fill="none" stroke="#0a0a0a" stroke-width="1.2" stroke-dasharray="1.1 1"/>
<path d="M240,173.8 C255,176 270,178 290.8,182 C305,185.5 320,193 328.8,201 C333,205 335.2,208 335.2,212 C335.2,218 331,222 322,223.8 L273,225.5" fill="none" stroke="#1020e0" stroke-width="1.3" stroke-dasharray="1.2 1.1"/>
<rect x="272.3" y="228.9" width="84.6" height="1.9" fill="#f0a070"/>
<polygon points="231.4,173.6 239.7,173.6 272.3,196 272.3,226.7 231.4,226.7" fill="#555555"/>
<rect x="231.4" y="226.7" width="40.9" height="4.1" fill="#ffffff"/>
<path d="M286.6,192 H291.2 M288.9,189.7 V194.3" stroke="#1018f0" stroke-width="1.1"/>
<polygon points="325.7,153.4 328.3,154.4 325.7,155.4" fill="#111"/>
<polygon points="322.4,157.1 325.0,158.1 322.4,159.1" fill="#111"/>
<polygon points="319.09999999999997,160.8 321.7,161.8 319.09999999999997,162.8" fill="#111"/>
<polygon points="315.8,164.5 318.40000000000003,165.5 315.8,166.5" fill="#111"/>
<polygon points="312.5,168.20000000000002 315.1,169.20000000000002 312.5,170.20000000000002" fill="#111"/>
<polygon points="309.2,171.9 311.8,172.9 309.2,173.9" fill="#111"/>
</g>
<path d="M231.4,150.0 V230.7 H356.9 V150.0" fill="none" stroke="#3a2a2a" stroke-width="0.6"/>
<text x="248.6" y="163.8" text-anchor="middle" style="font-family:'Liberation Serif',serif;font-size:6.1px;font-weight:bold;fill:#38e0e0">Corner</text>
<text x="248.6" y="171.3" text-anchor="middle" style="font-family:'Liberation Serif',serif;font-size:6.1px;font-weight:bold;fill:#38e0e0">vortex</text>
<text x="294.6" y="157.3" text-anchor="middle" style="font-family:'Liberation Serif',serif;font-size:6.1px;font-weight:bold;fill:#38e0e0">Upper</text>
<text x="294.6" y="164.5" text-anchor="middle" style="font-family:'Liberation Serif',serif;font-size:6.1px;font-weight:bold;fill:#38e0e0">recirculation</text>
<text x="294.6" y="171.9" text-anchor="middle" style="font-family:'Liberation Serif',serif;font-size:6.1px;font-weight:bold;fill:#38e0e0">bubble</text>
<text x="343.1" y="165" text-anchor="middle" style="font-family:'Liberation Serif',serif;font-size:6.1px;font-weight:bold;fill:#38e0e0">Lower</text>
<text x="343.1" y="172.3" text-anchor="middle" style="font-family:'Liberation Serif',serif;font-size:6.1px;font-weight:bold;fill:#38e0e0">recirculation</text>
<text x="343.1" y="179.7" text-anchor="middle" style="font-family:'Liberation Serif',serif;font-size:6.1px;font-weight:bold;fill:#38e0e0">bubble</text>
<line x1="258.6" y1="168.7" x2="271.7" y2="192" stroke="#30d8d8" stroke-width="0.9"/>
<line x1="284.3" y1="168" x2="279.3" y2="173.7" stroke="#30d8d8" stroke-width="0.9"/>
<line x1="344.3" y1="181" x2="333.8" y2="207.7" stroke="#30d8d8" stroke-width="0.9"/>
<line x1="241.3" y1="230.7" x2="241.3" y2="232.5" stroke="#222" stroke-width="0.7"/>
<text x="240.10000000000002" y="243" text-anchor="middle" style="font-family:'Liberation Serif',serif;font-size:7.6px;fill:#222;stroke:#222;stroke-width:0.32px">-0.5</text>
<line x1="272.3" y1="230.7" x2="272.3" y2="232.5" stroke="#222" stroke-width="0.7"/>
<text x="272.3" y="243" text-anchor="middle" style="font-family:'Liberation Serif',serif;font-size:7.6px;fill:#222;stroke:#222;stroke-width:0.32px">0</text>
<line x1="303.3" y1="230.7" x2="303.3" y2="232.5" stroke="#222" stroke-width="0.7"/>
<text x="303.3" y="243" text-anchor="middle" style="font-family:'Liberation Serif',serif;font-size:7.6px;fill:#222;stroke:#222;stroke-width:0.32px">0.5</text>
<line x1="334.3" y1="230.7" x2="334.3" y2="232.5" stroke="#222" stroke-width="0.7"/>
<text x="334.3" y="243" text-anchor="middle" style="font-family:'Liberation Serif',serif;font-size:7.6px;fill:#222;stroke:#222;stroke-width:0.32px">1</text>
<line x1="229.6" y1="165.2" x2="231.4" y2="165.2" stroke="#222" stroke-width="0.7"/>
<line x1="229.6" y1="196" x2="231.4" y2="196" stroke="#222" stroke-width="0.7"/>
<line x1="229.6" y1="227" x2="231.4" y2="227" stroke="#222" stroke-width="0.7"/>
<rect x="365.8" y="144.5" width="9.0" height="5.5" fill="#fdf0e2" stroke="#8a6a5a" stroke-width="0.3"/>
<rect x="365.8" y="150" width="9.0" height="10" fill="#fde0be" stroke="#8a6a5a" stroke-width="0.3"/>
<rect x="365.8" y="160" width="9.0" height="10" fill="#fcd09e" stroke="#8a6a5a" stroke-width="0.3"/>
<rect x="365.8" y="170" width="9.0" height="10" fill="#fbbc88" stroke="#8a6a5a" stroke-width="0.3"/>
<rect x="365.8" y="180" width="9.0" height="10" fill="#f9a070" stroke="#8a6a5a" stroke-width="0.3"/>
<rect x="365.8" y="190" width="9.0" height="10" fill="#f78a58" stroke="#8a6a5a" stroke-width="0.3"/>
<rect x="365.8" y="200" width="9.0" height="11" fill="#f26c48" stroke="#8a6a5a" stroke-width="0.3"/>
<rect x="365.8" y="211" width="9.0" height="11" fill="#ea4e38" stroke="#8a6a5a" stroke-width="0.3"/>
<rect x="365.8" y="222" width="9.0" height="10" fill="#d83228" stroke="#8a6a5a" stroke-width="0.3"/>
<rect x="365.8" y="232" width="9.0" height="9.5" fill="#c41e1e" stroke="#8a6a5a" stroke-width="0.3"/>
<rect x="365.8" y="241.5" width="9.0" height="5.800000000000011" fill="#a00e0e" stroke="#8a6a5a" stroke-width="0.3"/>
<text x="379.6" y="161.10000000000002" text-anchor="start" style="font-family:'Liberation Serif',serif;font-size:9.2px;fill:#222;stroke:#222;stroke-width:0.32px">0.2</text>
<text x="379.6" y="181.10000000000002" text-anchor="start" style="font-family:'Liberation Serif',serif;font-size:9.2px;fill:#222;stroke:#222;stroke-width:0.32px">0.4</text>
<text x="379.6" y="202.4" text-anchor="start" style="font-family:'Liberation Serif',serif;font-size:9.2px;fill:#222;stroke:#222;stroke-width:0.32px">0.6</text>
<text x="379.6" y="224.10000000000002" text-anchor="start" style="font-family:'Liberation Serif',serif;font-size:9.2px;fill:#222;stroke:#222;stroke-width:0.32px">0.8</text>
<text x="386" y="243.8" text-anchor="start" style="font-family:'Liberation Serif',serif;font-size:9.2px;fill:#222;stroke:#222;stroke-width:0.32px">1</text>
<text x="360.6" y="139.4" style="font-family:'Liberation Serif',serif;font-size:10.5px;font-style:italic;stroke:#000;stroke-width:0.2px">U</text>
<text x="367.4" y="141.2" textLength="6.6" lengthAdjust="spacingAndGlyphs" style="font-family:'Liberation Serif',serif;font-size:9.5px;font-style:italic;stroke:#000;stroke-width:0.15px">xz</text>
<line x1="360.3" y1="130.9" x2="375.8" y2="130.9" stroke="#333" stroke-width="0.7"/>
<text x="376.7" y="134.8" style="font-family:'Liberation Serif',serif;font-size:9px;font-weight:bold">*</text>
</svg>
</body></html>
